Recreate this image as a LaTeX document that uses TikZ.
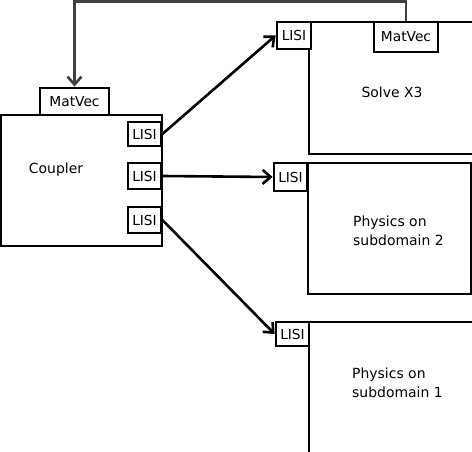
\documentclass[tikz,border=0pt]{standalone}
\usepackage{fontspec}
\setmainfont{DejaVu Sans}
\usetikzlibrary{arrows.meta}

\tikzset{
	box/.style={draw, line width=2.8bp, fill=white, inner sep=0pt},
	port/.style={draw, line width=2.8bp, fill=white, inner sep=0pt, font=\fontsize{13.8}{16}\selectfont},
	txt/.style={font=\fontsize{14}{19.5}\selectfont, align=left, inner sep=0pt},
	link/.style={line width=2.6bp, -{Straight Barb[length=8bp,width=14bp,line width=2.6bp]}},
}

\begin{document}
\begin{tikzpicture}[x=1bp,y=-1bp]
	\clip (0,0) rectangle (472,452);
	\coordinate (top) at (0,1.5);
	% big boxes
	\node[box, minimum width=161bp, minimum height=131bp] (coupler) at (81.5,180.5) {};
	\node[box, minimum width=166bp, minimum height=132bp] (solve) at (392,88) {};
	\node[box, minimum width=163bp, minimum height=131bp] (phys2) at (389.5,228.5) {};
	\node[box, minimum width=166bp, minimum height=150bp] (phys1) at (392,397) {};
	% texts
	\node[txt] (coupler-t) at (56,170) {Coupler};
	\node[txt] (solve-t) at (392,92) {Solve X3};
	\node[txt, anchor=west] (phys2-t) at (353,231) {Physics on\\subdomain 2};
	\node[txt, anchor=west] (phys1-t) at (352,383) {Physics on\\subdomain 1};
	% matvec ports
	\node[port, minimum width=69bp, minimum height=27bp] (cmv) at (74.5,101.5) {MatVec};
	\node[port, minimum width=64bp, minimum height=30bp] (smv) at (406,37) {MatVec};
	% lisi ports
	\node[port, minimum width=33bp, minimum height=24bp] (c1) at (144.5,134) {LISI};
	\node[port, minimum width=33bp, minimum height=26bp] (c2) at (144.5,176) {LISI};
	\node[port, minimum width=33bp, minimum height=26bp] (c3) at (144.5,220) {LISI};
	\node[port, minimum width=34bp, minimum height=27bp] (sl) at (294,35.5) {LISI};
	\node[port, minimum width=33bp, minimum height=28bp] (p2l) at (290.5,177) {LISI};
	\node[port, minimum width=33bp, minimum height=24bp] (p1l) at (292.5,334) {LISI};
	%
	\draw[link] (c1.east) -- (sl.west);
	\draw[link] (c2.east) -- (p2l.west);
	\draw[link] (c3.east) -- (p1l.west);
	\draw[link, black!75, line width=2.2bp] (smv.north) -- (smv.north |- top) -| (cmv.north);
\end{tikzpicture}
\end{document}
